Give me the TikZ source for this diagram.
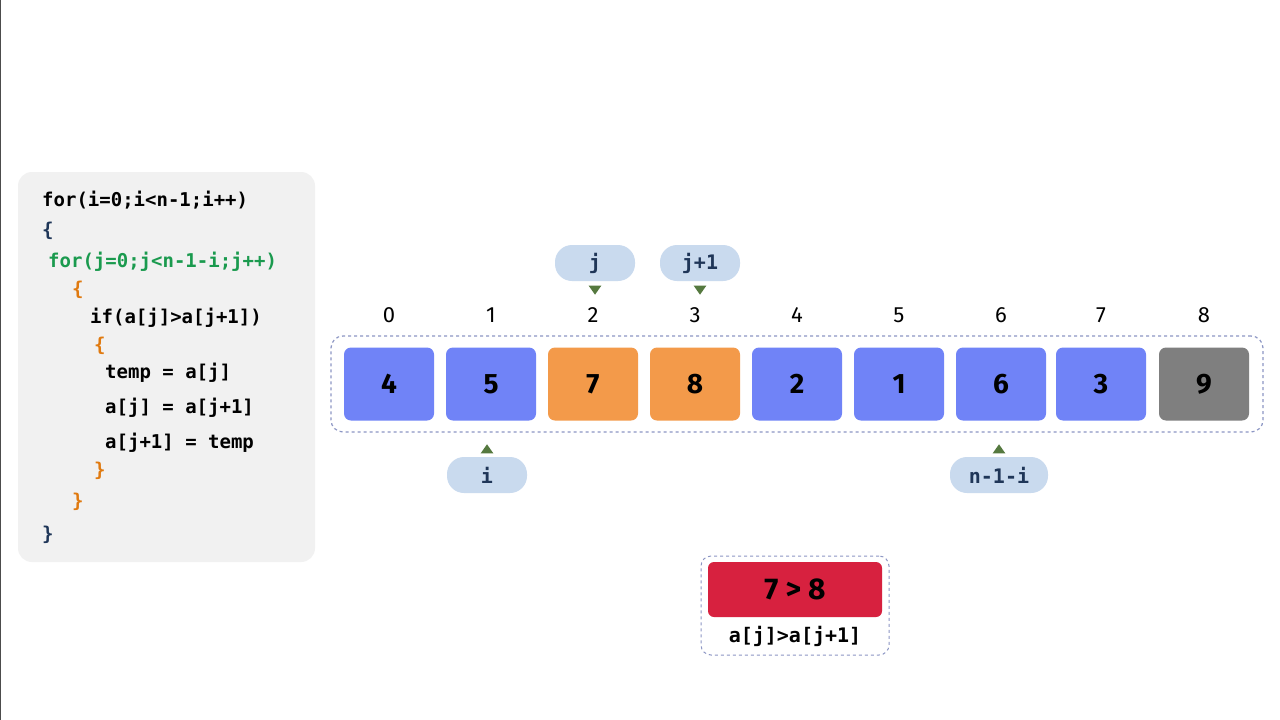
\documentclass[tikz,border=0pt]{standalone}
\usetikzlibrary{shapes.geometric}
\usepackage{fontspec}
\setmainfont{Fira Sans}
\setmonofont{DejaVu Sans Mono}
\definecolor{cbg}{HTML}{F1F1F1}
\definecolor{cblue}{HTML}{7083F7}
\definecolor{corange}{HTML}{F39A4A}
\definecolor{cgray}{HTML}{7F7F7F}
\definecolor{cpill}{HTML}{C9DAEE}
\definecolor{ctri}{HTML}{55793F}
\definecolor{cred}{HTML}{D7213F}
\definecolor{cnavy}{HTML}{1F3658}
\definecolor{cgreen}{HTML}{1A9A4E}
\definecolor{corg}{HTML}{E07A10}
\definecolor{cdash}{HTML}{8C96C4}
\tikzset{
 cell/.style={rounded corners=7pt,minimum width=90pt,minimum height=73pt,inner sep=0,font=\fontsize{28}{28}\selectfont\bfseries},
 idx/.style={font=\fontsize{22}{22}\selectfont},
 pill/.style={fill=cpill,rounded corners=17pt,minimum height=36pt,inner sep=0,text=cnavy,font=\fontsize{20}{20}\selectfont\ttfamily\bfseries},
 code/.style={anchor=west,inner sep=0,font=\fontsize{19}{19}\selectfont\ttfamily\bfseries},
 tri/.style={fill=ctri,isosceles triangle,isosceles triangle apex angle=70,inner sep=0,minimum size=9pt}
}
\begin{document}
\begin{tikzpicture}[x=1pt,y=-1pt]
\useasboundingbox (0,0) rectangle (1280,720);
\fill[white] (0,0) rectangle (1280,720);
\draw[black!70,line width=1pt] (0.5,0) -- (0.5,720);
\node[fill=cbg,rounded corners=14pt,minimum width=297pt,minimum height=390pt,inner sep=0] (codebox) at (166.5,367) {};
\node[code] (c1) at (42,200) {for(i=0;i<n-1;i++)};
\node[code,text=cnavy] (c2) at (42,231) {\{};
\node[code,text=cgreen] (c3) at (48,262) {for(j=0;j<n-1-i;j++)};
\node[code,text=corg] (c4) at (72,290) {\{};
\node[code] (c5) at (90,318) {if(a[j]>a[j+1])};
\node[code,text=corg] (c6) at (94,346) {\{};
\node[code] (c7) at (105,373) {temp = a[j]};
\node[code] (c8) at (105,408) {a[j] = a[j+1]};
\node[code] (c9) at (105,443) {a[j+1] = temp};
\node[code,text=corg] (c10) at (94,471) {\}};
\node[code,text=corg] (c11) at (72,502) {\}};
\node[code,text=cnavy] (c12) at (42,535) {\}};
\node[draw=cdash,dashed,line width=1.2pt,rounded corners=12pt,minimum width=932pt,minimum height=96pt,inner sep=0] (arr) at (797,384) {};
\foreach \i/\x/\v/\c in {0/389/4/cblue,1/491/5/cblue,2/593/7/corange,3/695/8/corange,4/797/2/cblue,5/899/1/cblue,6/1001/6/cblue,7/1101/3/cblue,8/1204/9/cgray}{
 \node[cell,fill=\c] (b\i) at (\x,384) {\v};
 \node[idx] (n\i) at (\x,315) {\i};
}
\node[pill,minimum width=80pt] (pj) at (595,263) {j};
\node[tri,shape border rotate=-90] (tj) at (595,289) {};
\node[pill,minimum width=80pt] (pj1) at (700,263) {j+1};
\node[tri,shape border rotate=-90] (tj1) at (700,289) {};
\node[pill,minimum width=80pt] (pi) at (487,475) {i};
\node[tri,shape border rotate=90] (ti) at (487,450) {};
\node[pill,minimum width=98pt] (pn) at (999,475) {n-1-i};
\node[tri,shape border rotate=90] (tn) at (999,450) {};
\node[draw=cdash,dashed,line width=1pt,rounded corners=10pt,minimum width=188pt,minimum height=99pt,inner sep=0] (cmpbox) at (795,605.5) {};
\node[fill=cred,rounded corners=6pt,minimum width=174pt,minimum height=55pt,inner sep=0,font=\fontsize{30}{30}\selectfont\bfseries] (cmp) at (795,589.5) {7 > 8};
\node[inner sep=0,font=\fontsize{20}{20}\selectfont\ttfamily\bfseries] (cmpt) at (795,636) {a[j]>a[j+1]};
\end{tikzpicture}
\end{document}
